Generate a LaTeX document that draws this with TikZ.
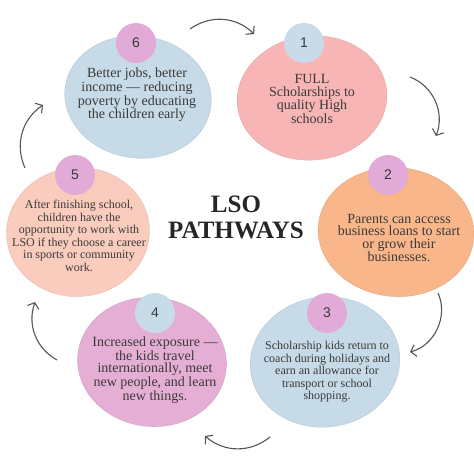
\documentclass[tikz,border=0pt]{standalone}
\usepackage{fontspec}
\setmainfont{Liberation Serif}
\newfontfamily\numfont{Liberation Sans}
\usetikzlibrary{shapes.geometric, arrows.meta}
\definecolor{skyblob}{RGB}{198,219,231}
\definecolor{roseblob}{RGB}{248,181,181}
\definecolor{apricot}{RGB}{249,182,139}
\definecolor{peach}{RGB}{250,204,189}
\definecolor{orchid}{RGB}{229,175,213}
\definecolor{dotpink}{RGB}{226,170,214}
\definecolor{dotblue}{RGB}{199,220,232}
\definecolor{inkgray}{RGB}{58,58,58}
\definecolor{arrowgray}{RGB}{85,85,85}

\begin{document}
\begin{tikzpicture}[
        x=1pt, y=1pt,
        blob/.style={ellipse, draw=#1!88!black, line width=0.3pt, fill=#1, inner sep=0pt},
        numdot/.style={circle, fill=#1, minimum size=40pt, inner sep=0pt, text=inkgray, font=\numfont\fontsize{14}{14}\selectfont},
        bigblurb/.style={align=center, inner sep=0pt, text=inkgray, font=\fontsize{14}{12.5}\selectfont},
        smallblurb/.style={align=center, inner sep=0pt, text=inkgray, font=\fontsize{12}{12.5}\selectfont},
        cycarrow/.style={draw=arrowgray, line width=1.1pt, -{Straight Barb[length=5pt, width=12pt]}}
    ]
        \useasboundingbox (0,0) rectangle (474,-464);

        % blobs
        \node[blob=skyblob, minimum width=147pt, minimum height=122pt, rotate=-8] (b6) at (138,-97) {};
        \node[blob=roseblob, minimum width=150pt, minimum height=124pt, rotate=6] (b1) at (312,-98) {};
        \node[blob=apricot, minimum width=156pt, minimum height=129pt, rotate=-5] (b2) at (396,-232) {};
        \node[blob=skyblob, minimum width=150pt, minimum height=130pt, rotate=8] (b3) at (325,-362) {};
        \node[blob=orchid, minimum width=149pt, minimum height=129pt, rotate=-6] (b4) at (152,-362) {};
        \node[blob=peach, minimum width=143pt, minimum height=129pt, rotate=5] (b5) at (78,-232) {};

        % number dots
        \node[numdot=dotpink] (n6) at (136,-43) {6};
        \node[numdot=dotblue] (n1) at (304,-43) {1};
        \node[numdot=dotpink] (n2) at (388,-175) {2};
        \node[numdot=dotpink] (n3) at (327,-313) {3};
        \node[numdot=dotblue] (n4) at (155,-313) {4};
        \node[numdot=dotpink] (n5) at (75,-175) {5};

        % texts
        \node[bigblurb] (t6) at (137,-95) {Better jobs, better\\income — reducing\\poverty by educating\\the children early};
        \node[bigblurb] (t1) at (312,-99) {FULL\\Scholarships to\\quality High\\schools};
        \node[bigblurb] (t2) at (399,-238) {Parents can access\\business loans to start\\or grow their\\businesses.};
        \node[smallblurb] (t3) at (327,-372) {Scholarship kids return to\\coach during holidays and\\earn an allowance for\\transport or school\\shopping.};
        \node[bigblurb] (t4) at (155,-370) {Increased exposure —\\the kids travel\\internationally, meet\\new people, and learn\\new things.};
        \node[smallblurb] (t5) at (79,-236) {After finishing school,\\children have the\\opportunity to work with\\LSO if they choose a career\\in sports or community\\work.};

        \node[align=center, inner sep=0pt, text=black!85, font=\bfseries\fontsize{25}{26}\selectfont] (title) at (236,-217) {LSO\\PATHWAYS};

        % arrows
        \coordinate (s61) at (190,-29);  \coordinate (e61) at (254,-34);
        \coordinate (s12) at (410,-77);  \coordinate (e12) at (436,-136);
        \coordinate (s23) at (438,-293); \coordinate (e23) at (410,-352);
        \coordinate (s34) at (270,-437); \coordinate (e34) at (205,-436);
        \coordinate (s45) at (57,-360);  \coordinate (e45) at (35,-302);
        \coordinate (s56) at (25,-168);  \coordinate (e56) at (43,-105);

        \draw[cycarrow] (s61) to[bend left=40] (e61);
        \draw[cycarrow] (s12) to[bend left=45] (e12);
        \draw[cycarrow] (s23) to[bend left=50] (e23);
        \draw[cycarrow] (s34) to[bend left=40] (e34);
        \draw[cycarrow] (s45) to[bend left=40] (e45);
        \draw[cycarrow] (s56) to[bend left=40] (e56);
\end{tikzpicture}
\end{document}
